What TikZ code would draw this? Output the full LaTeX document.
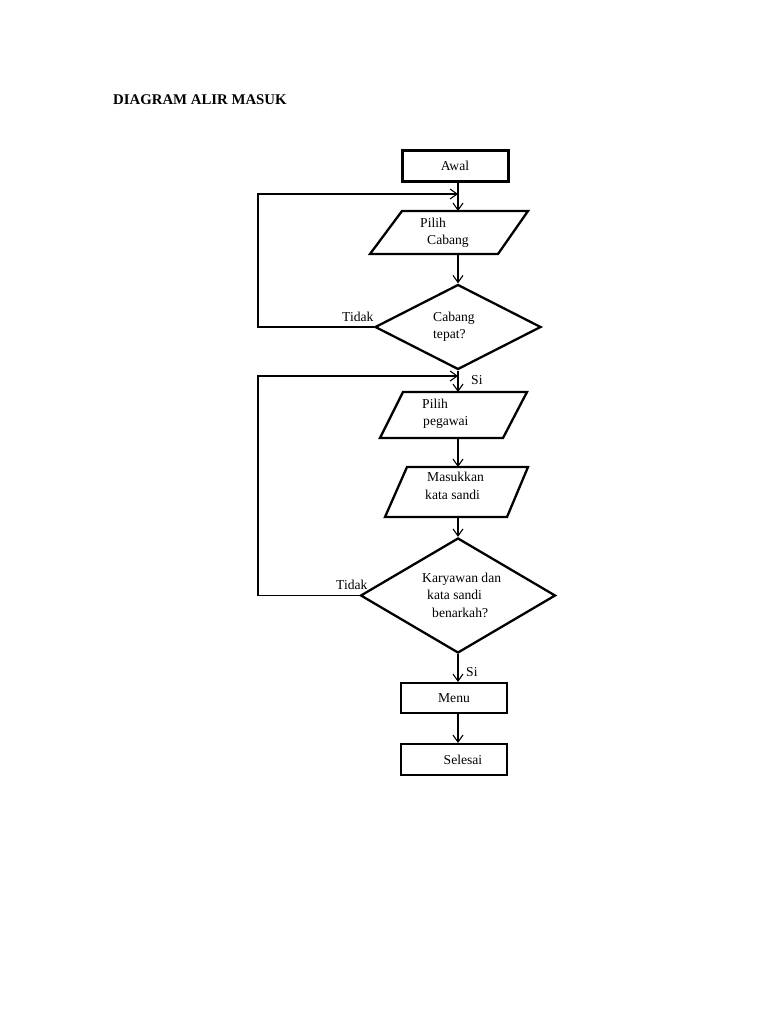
\documentclass[tikz,border=0pt]{standalone}
\usepackage{fontspec}
\setmainfont{Liberation Serif}
\usetikzlibrary{shapes.geometric,arrows.meta}
\begin{document}
\begin{tikzpicture}[x=1pt,y=-1pt,
  lbl/.style={inner sep=0pt,font=\fontsize{13.6}{15}\selectfont,anchor=mid west},
  boxnode/.style={draw,line width=2pt,minimum width=106pt,minimum height=31pt,inner sep=0pt,font=\fontsize{13.6}{15}\selectfont},
  dia/.style={draw,shape=diamond,line width=2.3pt,inner sep=0pt},
  para/.style={draw,line width=2.3pt,line join=miter},
  arr/.style={line width=1.3pt,-{Straight Barb[length=7pt,width=10pt,line width=1.1pt]}},
  ln/.style={line width=1.3pt}]
\useasboundingbox (0,0) rectangle (768,1024);
% title
\node[inner sep=0pt,anchor=mid west,font=\fontsize{14.8}{16}\selectfont\bfseries] (title) at (113,102) {DIAGRAM ALIR MASUK};
% Awal
\node[boxnode,line width=3pt] (awal) at (455,166) {Awal};
% Pilih Cabang
\draw[para] (402,211) -- (528,211) -- (498,254) -- (370,254) -- cycle;
\coordinate (pctop) at (458,211);
\coordinate (pcbot) at (458,254);
\node[lbl] (pc1) at (420,225) {Pilih};
\node[lbl] (pc2) at (427,242) {Cabang};
% decision 1
\node[dia,minimum width=166pt,minimum height=85pt] (d1) at (458,327) {};
\node[lbl] (d1a) at (433,319) {Cabang};
\node[lbl] (d1b) at (433,336) {tepat?};
\node[lbl] (t1) at (342,319) {Tidak};
\node[lbl] (s1) at (471,382) {Si};
% Pilih pegawai
\draw[para] (403,392) -- (527,392) -- (503,438) -- (380,438) -- cycle;
\coordinate (pptop) at (458,392);
\coordinate (ppbot) at (458,438);
\node[lbl] (pp1) at (422,406) {Pilih};
\node[lbl] (pp2) at (423,423) {pegawai};
% Masukkan kata sandi
\draw[para] (407,467) -- (528,467) -- (507,517) -- (385,517) -- cycle;
\coordinate (mktop) at (458,467);
\coordinate (mkbot) at (458,517);
\node[lbl] (mk1) at (427,479) {Masukkan};
\node[lbl] (mk2) at (425,497) {kata sandi};
% decision 2
\node[dia,minimum width=195pt,minimum height=115pt] (d2) at (458,595.5) {};
\node[lbl] (d2a) at (422,580) {Karyawan dan};
\node[lbl] (d2b) at (427,597) {kata sandi};
\node[lbl] (d2c) at (432,615) {benarkah?};
\node[lbl] (t2) at (336,587) {Tidak};
\node[lbl] (s2) at (466,674) {Si};
% Menu, Selesai
\node[boxnode,minimum height=30pt] (menu) at (454,698) {Menu};
\node[boxnode] (sel) at (454,759.5) {\hspace*{18pt}Selesai};
% connectors
\coordinate (j1) at (458,194);
\coordinate (l1) at (258,194);
\coordinate (j2) at (458,376);
\coordinate (l2) at (258,376);
\draw[arr] (awal.south -| pctop) -- (pctop);
\draw[arr] (d1.west) -| (l1) -- (j1);
\draw[arr] (pcbot) -- (d1.north);
\draw[arr] (d1.south) -- (pptop);
\draw[arr] (d2.west) -| (l2) -- (j2);
\draw[arr] (ppbot) -- (mktop);
\draw[arr] (mkbot) -- (d2.north);
\draw[arr] (d2.south) -- (menu.north -| d2.south);
\draw[arr] (menu.south -| d2.south) -- (sel.north -| d2.south);
\end{tikzpicture}
\end{document}
